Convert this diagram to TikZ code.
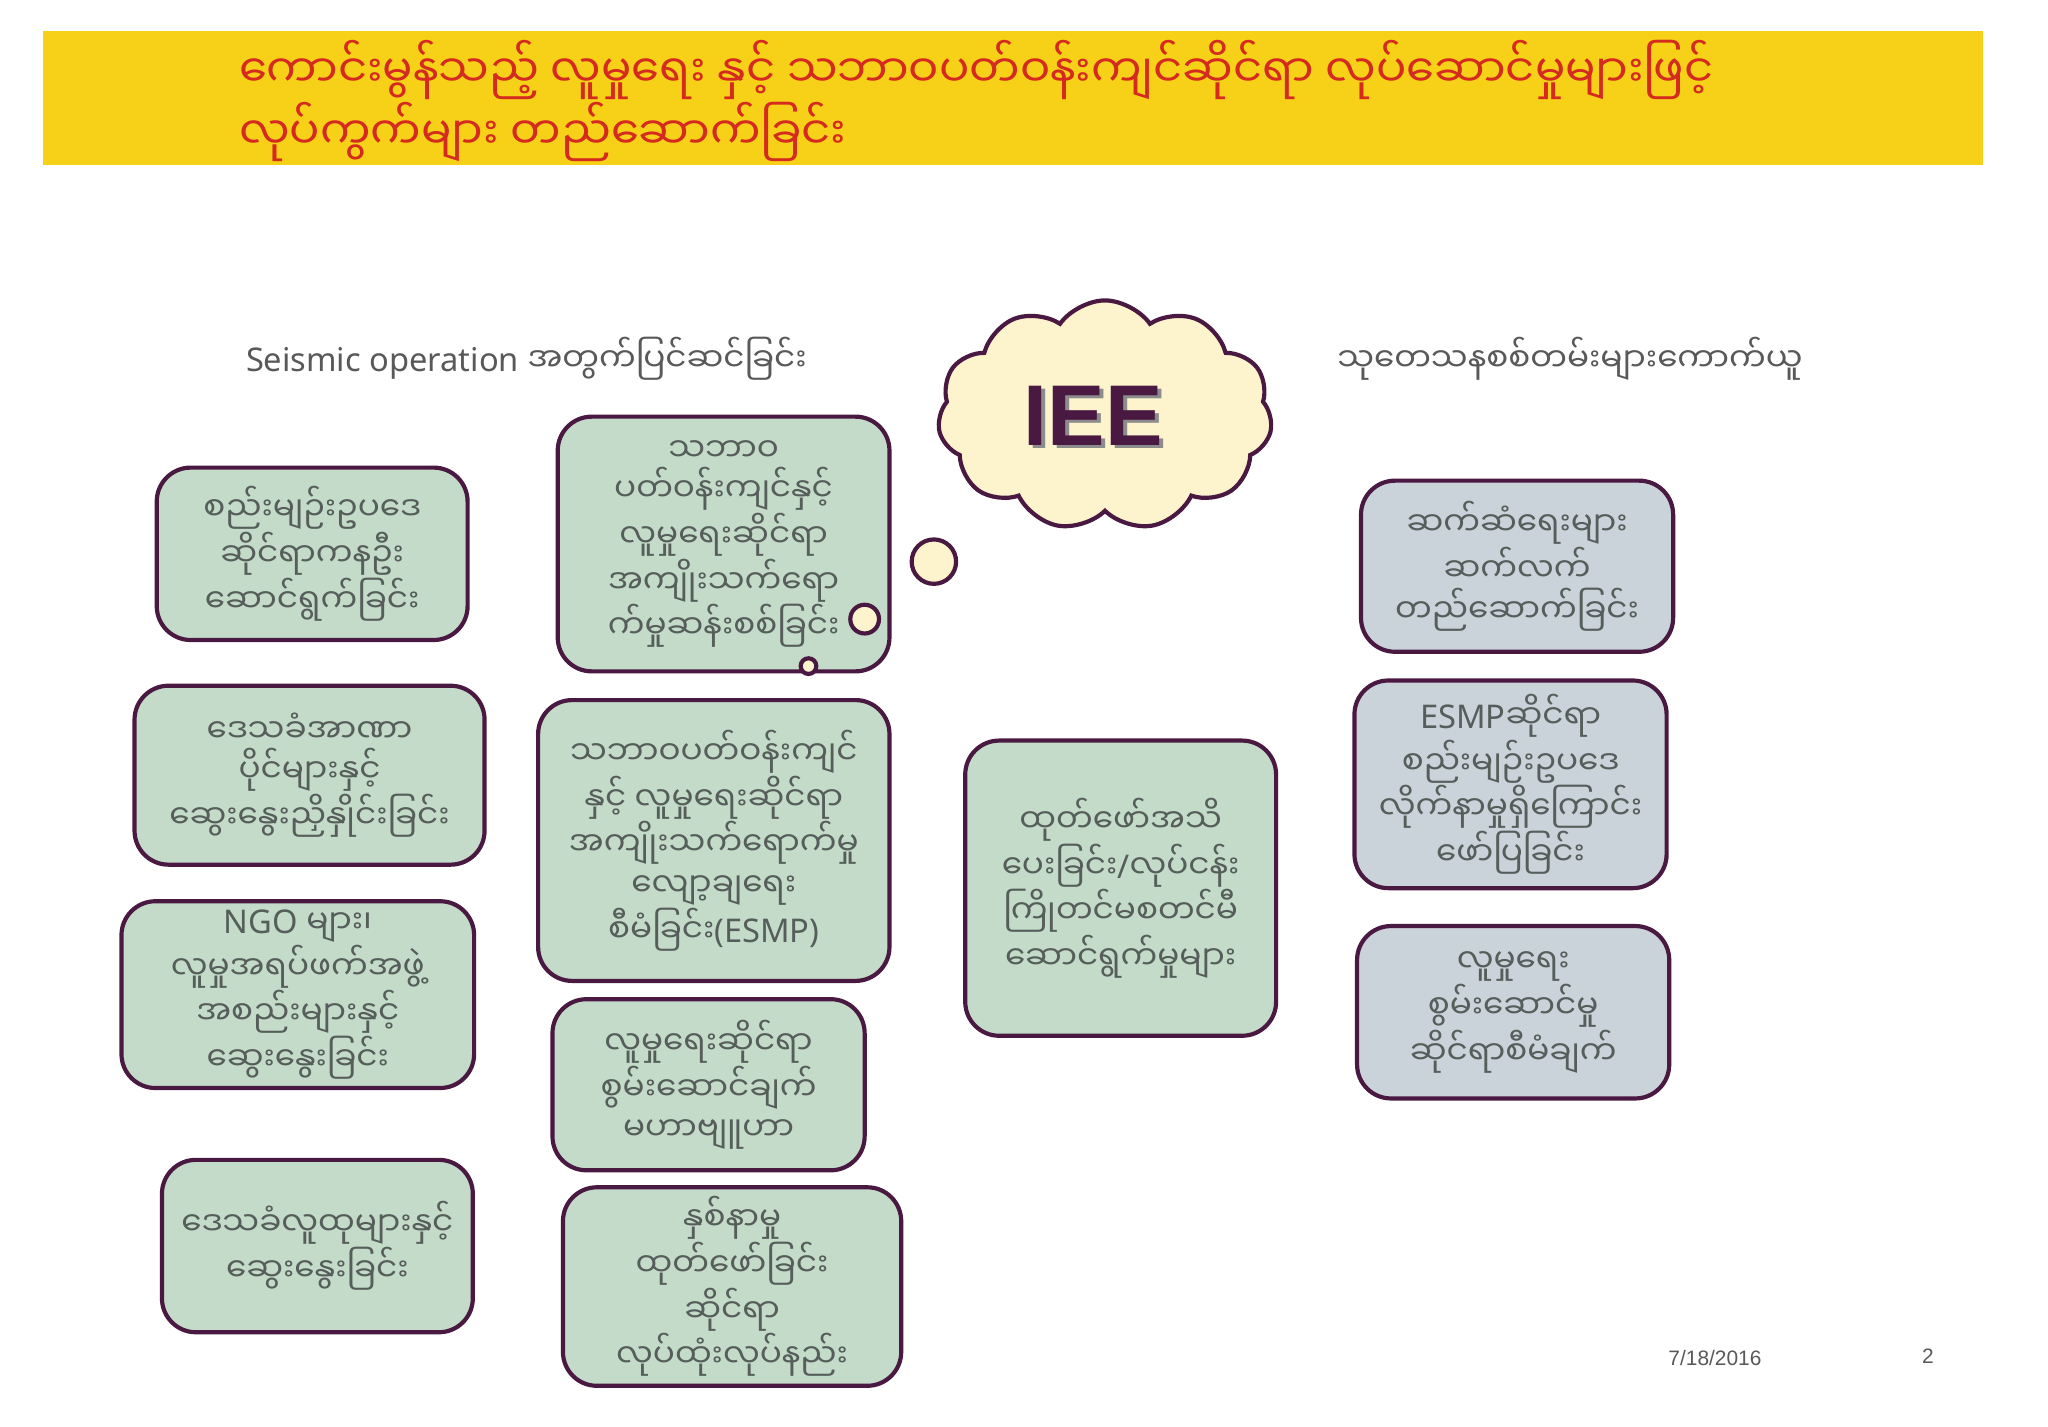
\documentclass[tikz,border=0pt]{standalone}
\usepackage{fontspec}
\setmainfont{Noto Sans Myanmar UI}[Script=Myanmar]
\newfontfamily\latinsans{Liberation Sans}
\newfontfamily\lnoto{Noto Sans}
\newcommand{\lt}[1]{{\lnoto #1}}
\usetikzlibrary{shapes.symbols}
\definecolor{barY}{HTML}{F7D117}
\definecolor{titleR}{HTML}{D42A1F}
\definecolor{boxG}{HTML}{C5DBC9}
\definecolor{boxB}{HTML}{CBD3DA}
\definecolor{edgeP}{HTML}{4A1942}
\definecolor{txtG}{HTML}{555E5A}
\definecolor{cloudY}{HTML}{FDF3CC}
\tikzset{
  card/.style={draw=edgeP, line width=1.6pt, rounded corners=13pt, align=center,
    text=txtG, font=\fontsize{12.5}{15.5}\selectfont, inner sep=0pt},
  gcard/.style={card, fill=boxG},
  bcard/.style={card, fill=boxB},
  hdr/.style={text=black!65, font=\fontsize{12.5}{15}\selectfont},
  bub/.style={circle, draw=edgeP, line width=1.6pt, fill=cloudY, inner sep=0pt}
}
\begin{document}
\begin{tikzpicture}[x=0.5pt,y=-0.5pt]
\useasboundingbox[fill=white] (0,0) rectangle (1568,1092);
\node[fill=barY, minimum width=742.5pt, minimum height=51pt, inner sep=0pt] (bar) at (775.5,75) {};
\node[anchor=west, text=titleR, align=left, font=\fontsize{17.2}{21}\selectfont] (title) at (176,77)
 {ကောင်းမွန်သည့် လူမှုရေး နှင့် သဘာဝပတ်ဝန်းကျင်ဆိုင်ရာ လုပ်ဆောင်မှုများဖြင့်\\ လုပ်ကွက်များ တည်ဆောက်ခြင်း};
\node[hdr] (hl) at (403,275) {\lt{Seismic operation} အတွက်ပြင်ဆင်ခြင်း};
\node[hdr] (hr) at (1202,275) {သုတေသနစစ်တမ်းများကောက်ယူ};
% left column
\node[gcard, minimum width=119pt, minimum height=66pt] (l1) at (239,424) {စည်းမျဉ်းဥပဒေ\\ဆိုင်ရာကနဦး\\ဆောင်ရွက်ခြင်း};
\node[gcard, minimum width=134pt, minimum height=68.5pt] (l2) at (237,593.5) {ဒေသခံအာဏာ\\ပိုင်များနှင့်\\ဆွေးနွေးညှိနှိုင်းခြင်း};
\node[gcard, minimum width=135pt, minimum height=71.5pt] (l3) at (228,761.5) {\lt{NGO} များ၊\\လူမှုအရပ်ဖက်အဖွဲ့\\အစည်းများနှင့်\\ဆွေးနွေးခြင်း};
\node[gcard, minimum width=119pt, minimum height=66pt] (l4) at (243,954) {ဒေသခံလူထုများနှင့်\\ဆွေးနွေးခြင်း};
% middle column
\node[gcard, minimum width=127pt, minimum height=97.5pt] (m1) at (554,416.5) {သဘာဝ\\ပတ်ဝန်းကျင်နှင့်\\လူမှုရေးဆိုင်ရာ\\အကျိုးသက်ရော\\က်မှုဆန်းစစ်ခြင်း};
\node[gcard, minimum width=134.5pt, minimum height=107.5pt] (m2) at (546.5,643.5) {သဘာဝပတ်ဝန်းကျင်\\နှင့် လူမှုရေးဆိုင်ရာ\\အကျိုးသက်ရောက်မှု\\လျော့ချရေး\\စီမံခြင်း\lt{(ESMP)}};
\node[gcard, minimum width=119.5pt, minimum height=65.5pt] (m3) at (542.5,830.5) {လူမှုရေးဆိုင်ရာ\\စွမ်းဆောင်ချက်\\မဟာဗျူဟာ};
\node[gcard, minimum width=129.5pt, minimum height=76pt] (m4) at (560.5,985) {နှစ်နာမှု\\ထုတ်ဖော်ခြင်း\\ဆိုင်ရာ\\လုပ်ထုံးလုပ်နည်း};
% centre
\node[gcard, minimum width=119pt, minimum height=113pt] (c1) at (858,680) {ထုတ်ဖော်အသိ\\ပေးခြင်း\lt{/}လုပ်ငန်း\\ကြိုတင်မစတင်မီ\\ဆောင်ရွက်မှုများ};
% right column
\node[bcard, minimum width=119.5pt, minimum height=65.5pt] (r1) at (1161.5,433.5) {ဆက်ဆံရေးများ\\ဆက်လက်\\တည်ဆောက်ခြင်း};
\node[bcard, minimum width=119.5pt, minimum height=79.5pt] (r2) at (1156.5,600.5) {\lt{ESMP}ဆိုင်ရာ\\စည်းမျဉ်းဥပဒေ\\လိုက်နာမှုရှိကြောင်း\\ဖော်ပြခြင်း};
\node[bcard, minimum width=119.5pt, minimum height=66pt] (r3) at (1158.5,775) {လူမှုရေး\\စွမ်းဆောင်မှု\\ဆိုင်ရာစီမံချက်};
% cloud
\node[cloud, cloud puffs=11, cloud puff arc=110, aspect=1.45, draw=edgeP, line width=1.6pt, fill=cloudY,
  minimum width=128pt, minimum height=88pt, inner sep=0pt] (cloud) at (846,318) {};
\node[text=black!45, font=\latinsans\bfseries\fontsize{33}{33}\selectfont] (ieeshadow) at (840,321) {IEE};
\node[text=edgeP, font=\latinsans\bfseries\fontsize{33}{33}\selectfont] (iee) at (837,318) {IEE};
\node[bub, minimum size=17pt] (b1) at (715,430) {};
\node[bub, minimum size=11pt] (b2) at (662,474) {};
\node[bub, minimum size=6pt] (b3) at (619,510) {};
% footer
\node[text=black!65, font=\latinsans\fontsize{8}{9}\selectfont] (date) at (1313,1040) {7/18/2016};
\node[text=black!65, font=\latinsans\fontsize{8}{9}\selectfont] (pg) at (1476,1038) {2};
\end{tikzpicture}
\end{document}
